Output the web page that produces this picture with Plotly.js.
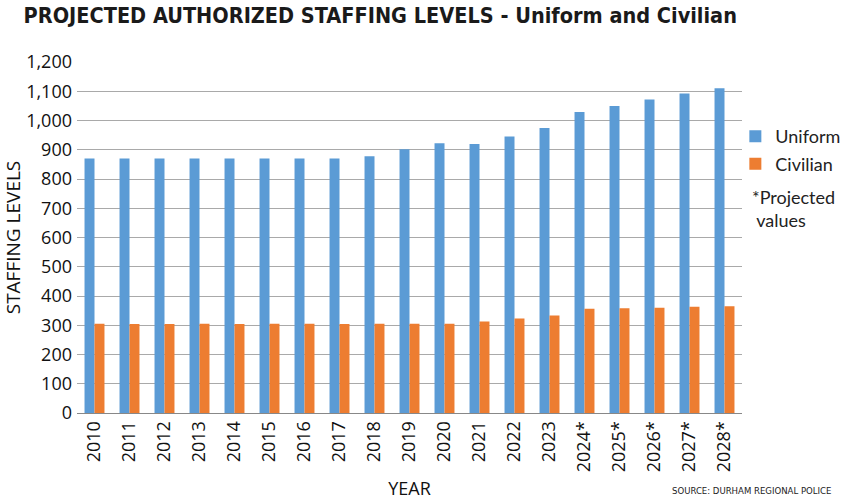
<!DOCTYPE html>
<html>
<head>
<meta charset="utf-8">
<script src="https://cdn.plot.ly/plotly-3.0.1.min.js"></script>
<style>html,body{margin:0;padding:0;background:#fff;}#chart{width:843px;height:500px;}</style>
</head>
<body>
<div id="chart"></div>
<script>
var years = ["2010","2011","2012","2013","2014","2015","2016","2017","2018","2019","2020","2021","2022","2023","2024*","2025*","2026*","2027*","2028*"];
var uniform = [870,870,870,870,870,870,870,870,878,902,922,920,945,974,1029,1050,1072,1092,1110];
var civilian = [305,304,304,305,304,305,305,304,305,305,305,313,323,333,356,358,360,363,365];
var yTicks = [0,100,200,300,400,500,600,700,800,900,1000,1100,1200];
var yTickText = ["0","100","200","300","400","500","600","700","800","900","1,000","1,100","1,200"];

var fontFam = "Open Sans, Lato, sans-serif";
var narrowFam = "Lato, Open Sans, sans-serif";
var condFam = "DejaVu Sans Condensed, Liberation Sans Narrow, Arial, sans-serif";
var data = [
  {type:"bar", name:"Uniform", legendgroup:"u", x:years, y:uniform, marker:{color:"#5b9bd5"}},
  {type:"bar", name:"Civilian", legendgroup:"c", x:years, y:civilian, marker:{color:"#ed7d31"}}
];
var layout = {
  width:843, height:500,
  margin:{l:77, r:101, t:62, b:87, autoexpand:false},
  paper_bgcolor:"#fff", plot_bgcolor:"#fff",
  barmode:"group", bargap:0.43, bargroupgap:0,
  showlegend:true,
  legend:{x:0.99, y:0.84, xanchor:"left", yanchor:"top", traceorder:"grouped", tracegroupgap:1, font:{family:narrowFam, size:18, color:"#222"}, itemwidth:30, bgcolor:"rgba(0,0,0,0)"},
  title:{text:"<b>PROJECTED AUTHORIZED STAFFING LEVELS - Uniform and Civilian</b>", xref:"container", x:0.028, xanchor:"left", yref:"container", y:0.985, yanchor:"top", font:{family:condFam, size:21.5, color:"#1a1a1a"}},
  xaxis:{type:"category", tickangle:-90, tickfont:{family:fontFam, size:18, color:"#111"}, showgrid:false, showline:true, linecolor:"#888", linewidth:1, ticks:"", title:{text:"YEAR", font:{family:fontFam, size:18, color:"#111"}, standoff:12}},
  yaxis:{range:[0,1200], tickvals:yTicks, ticktext:yTickText, tickfont:{family:fontFam, size:18, color:"#111"}, showgrid:true, gridcolor:"#a9a9a9", gridwidth:1, zeroline:true, zerolinecolor:"#888", ticks:"", ticklabelstandoff:4, title:{text:"STAFFING LEVELS", font:{family:fontFam, size:19, color:"#111"}, standoff:4}},
  annotations:[
    {text:"*Projected<br> values", xref:"paper", yref:"paper", x:1.012, y:0.652, xanchor:"left", yanchor:"top", align:"left", showarrow:false, font:{family:narrowFam, size:18, color:"#222"}},
    {text:"SOURCE: DURHAM REGIONAL POLICE", xref:"paper", yref:"paper", x:1.137, y:-0.2, xanchor:"right", yanchor:"top", showarrow:false, font:{family:condFam, size:9.5, color:"#222"}}
  ]
};
Plotly.newPlot("chart", data, layout, {displayModeBar:false, staticPlot:true});
</script>
</body>
</html>
